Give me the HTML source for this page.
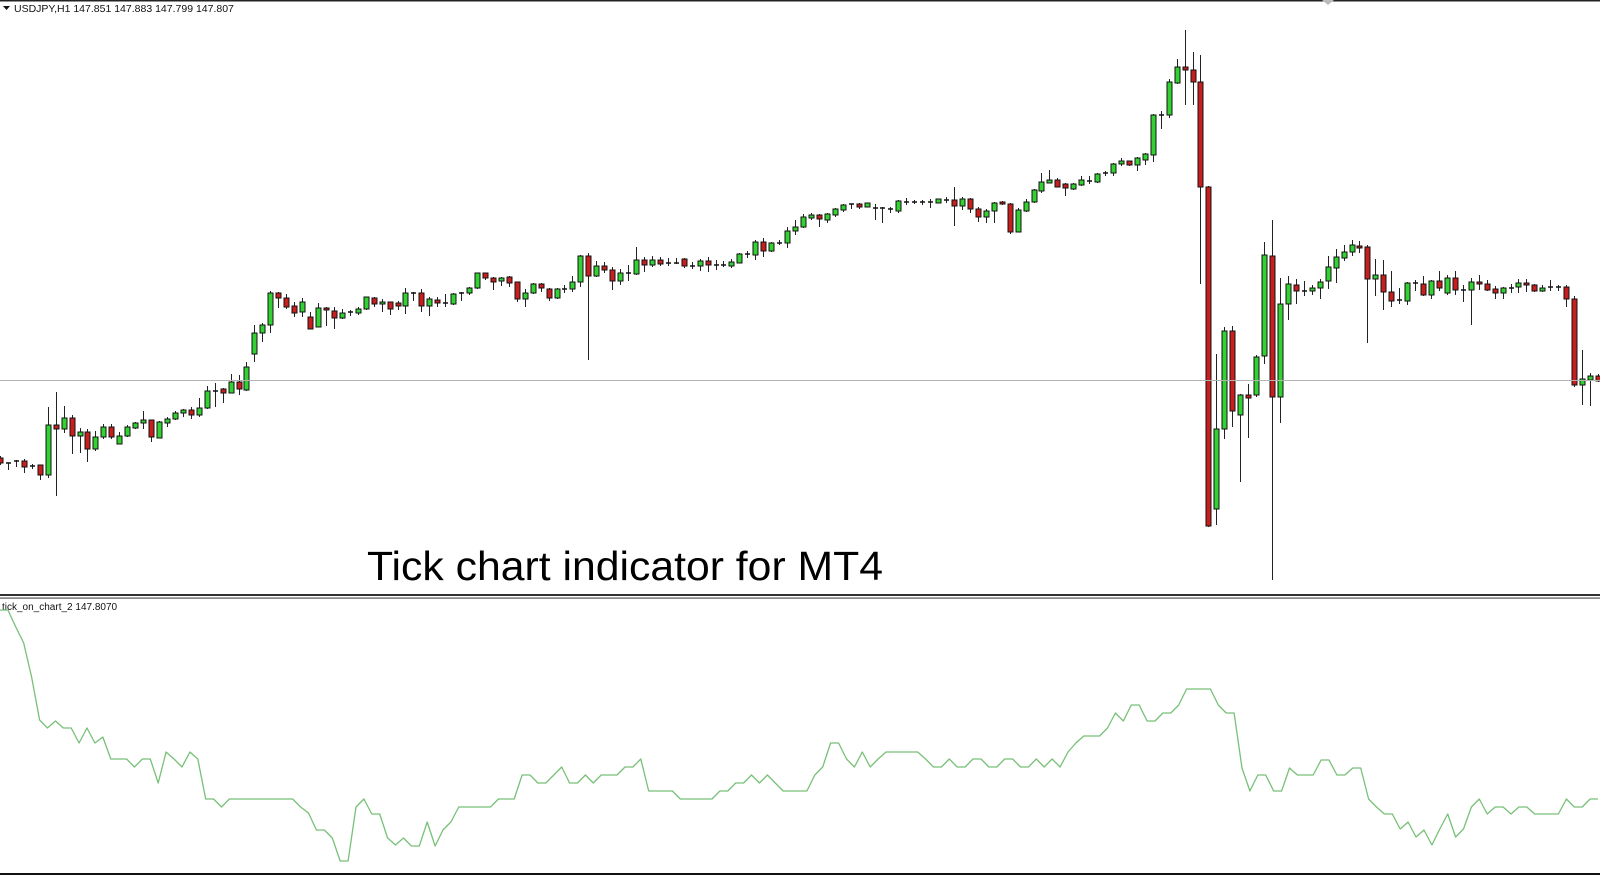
<!DOCTYPE html>
<html><head><meta charset="utf-8"><title>USDJPY H1 tick chart</title>
<style>
html,body{margin:0;padding:0;background:#fff;}
#wrap{position:relative;width:1600px;height:875px;overflow:hidden;background:#fff;font-family:"Liberation Sans",sans-serif;}
svg{position:absolute;left:0;top:0;}
</style></head>
<body>
<div id="wrap">
<svg id="chart" width="1600" height="875" viewBox="0 0 1600 875">
  <rect x="0" y="0" width="1600" height="1.5" fill="#222"/>
  <g id="candles"></g>
  <line id="bidline" x1="0" x2="1600" y1="380" y2="380" stroke="#b4b4b4" stroke-width="1"/>
  <text x="14" y="12" font-size="10.5" fill="#111" font-family="Liberation Sans, sans-serif">USDJPY,H1  147.851 147.883 147.799 147.807</text>
  <path d="M3 6 L10 6 L6.5 10 Z" fill="#111"/>
  <path d="M1322 0 L1334 0 L1328 5 Z" fill="#bbb"/>
  <text x="367" y="580" font-size="41" fill="#000" textLength="516" lengthAdjust="spacingAndGlyphs" font-family="Liberation Sans, sans-serif">Tick chart indicator for MT4</text>
  <rect x="0" y="594" width="1600" height="2" fill="#333"/>
  <rect x="0" y="597.5" width="1600" height="1.2" fill="#555"/>
  <text x="2" y="610" font-size="10" fill="#111" font-family="Liberation Sans, sans-serif">tick_on_chart_2 147.8070</text>
  <polyline id="indline" fill="none" stroke="#78c078" stroke-width="1.3" stroke-linejoin="round"/>
  <rect x="0" y="873" width="1600" height="2" fill="#111"/>
</svg>
</div>
<script>
const opens = [145.42,145.37,145.39,145.39,145.34,145.35,145.25,145.75,145.71,145.82,
145.64,145.68,145.51,145.63,145.73,145.56,145.64,145.72,145.77,145.80,
145.62,145.77,145.81,145.87,145.90,145.85,145.92,146.09,146.11,146.07,
146.18,146.10,146.46,146.67,146.75,147.07,147.02,146.94,146.88,146.83,
146.73,146.92,146.89,146.82,146.88,146.87,146.91,147.02,146.96,146.98,
146.97,146.94,147.07,147.07,146.94,147.00,146.97,146.96,147.07,147.07,
147.12,147.27,147.22,147.19,147.23,147.18,147.01,147.07,147.16,147.11,
147.02,147.11,147.11,147.18,147.44,147.24,147.34,147.30,147.19,147.27,
147.26,147.40,147.35,147.40,147.37,147.37,147.41,147.34,147.34,147.39,
147.35,147.35,147.34,147.37,147.46,147.45,147.58,147.49,147.57,147.57,
147.69,147.73,147.82,147.85,147.80,147.85,147.90,147.96,147.96,147.93,
147.92,147.92,147.91,147.89,147.98,147.98,147.98,147.98,147.97,148.00,
148.00,147.94,148.01,147.91,147.83,147.89,147.98,147.96,147.68,147.89,
147.98,148.09,148.17,148.20,148.16,148.11,148.15,148.19,148.18,148.27,
148.27,148.36,148.39,148.35,148.40,148.45,148.85,148.85,149.17,149.33,
149.30,149.18,148.13,144.91,145.71,146.69,145.85,146.05,146.05,146.44,
147.44,146.03,146.96,147.15,147.09,147.09,147.12,147.19,147.32,147.42,
147.48,147.54,147.53,147.21,147.25,147.08,147.00,146.99,147.17,147.16,
147.05,147.19,147.07,147.22,147.10,147.10,147.18,147.16,147.11,147.07,
147.12,147.13,147.17,147.15,147.09,147.13,147.13,147.13,147.01,146.15,
146.20,146.24];
const highs = [145.44,145.37,145.40,145.41,145.36,145.35,145.93,146.08,145.94,145.85,
145.72,145.71,145.69,145.76,145.76,145.68,145.75,145.78,145.89,145.80,
145.79,145.83,145.89,145.91,145.93,146.02,146.14,146.17,146.12,146.26,
146.25,146.38,146.75,146.77,147.09,147.08,147.06,146.98,147.02,146.88,
146.97,146.93,146.93,146.91,146.90,146.93,147.03,147.03,147.01,146.98,
146.99,147.12,147.08,147.11,147.03,147.03,147.06,147.07,147.08,147.13,
147.27,147.27,147.23,147.23,147.24,147.18,147.11,147.17,147.17,147.12,
147.12,147.15,147.24,147.45,147.47,147.39,147.38,147.33,147.31,147.35,
147.53,147.43,147.44,147.43,147.42,147.42,147.42,147.38,147.41,147.43,
147.40,147.39,147.41,147.47,147.49,147.60,147.62,147.58,147.60,147.73,
147.80,147.86,147.87,147.86,147.87,147.92,147.96,147.96,147.97,147.97,
147.96,147.93,147.93,148.00,148.02,148.00,148.00,148.01,148.01,148.03,
148.13,148.03,148.02,147.93,147.91,147.98,147.99,147.97,147.92,148.01,
148.11,148.27,148.30,148.22,148.17,148.17,148.24,148.24,148.27,148.29,
148.37,148.42,148.39,148.43,148.47,148.86,148.89,149.21,149.41,149.70,
149.48,149.45,148.14,146.46,146.73,146.74,146.06,146.16,146.45,147.58,
147.80,147.22,147.24,147.21,147.19,147.15,147.21,147.44,147.51,147.55,
147.60,147.59,147.55,147.41,147.40,147.29,147.12,147.18,147.20,147.24,
147.20,147.29,147.25,147.29,147.15,147.22,147.25,147.20,147.14,147.13,
147.16,147.21,147.21,147.16,147.15,147.20,147.15,147.15,147.04,146.50,
146.27,146.26];
const lows = [145.35,145.30,145.33,145.27,145.31,145.20,145.22,145.04,145.67,145.46,
145.47,145.38,145.49,145.61,145.61,145.56,145.63,145.71,145.71,145.58,
145.62,145.73,145.80,145.83,145.81,145.83,145.91,145.93,145.97,146.07,
146.05,146.09,146.38,146.58,146.67,146.92,146.91,146.83,146.83,146.71,
146.73,146.74,146.71,146.81,146.84,146.85,146.90,146.93,146.88,146.85,
146.90,146.86,146.99,146.88,146.84,146.93,146.93,146.95,146.99,147.05,
147.11,147.20,147.10,147.14,147.13,146.98,146.93,147.06,147.08,146.99,
147.01,147.07,147.08,147.13,146.40,147.23,147.27,147.10,147.15,147.19,
147.25,147.28,147.33,147.34,147.34,147.36,147.32,147.31,147.29,147.28,
147.30,147.33,147.32,147.37,147.42,147.40,147.43,147.48,147.55,147.52,
147.65,147.72,147.80,147.73,147.77,147.83,147.88,147.91,147.91,147.93,
147.80,147.77,147.87,147.87,147.95,147.96,147.95,147.92,147.97,147.97,
147.74,147.90,147.87,147.78,147.77,147.77,147.95,147.66,147.68,147.88,
147.97,148.07,148.17,148.13,148.04,148.10,148.14,148.16,148.17,148.24,
148.24,148.34,148.34,148.29,148.35,148.38,148.71,148.82,149.16,148.95,
148.95,147.16,144.73,144.75,145.61,145.73,145.18,145.62,146.03,146.36,
144.20,145.77,146.80,146.96,147.04,147.05,147.01,147.11,147.17,147.39,
147.44,147.47,146.57,147.04,146.90,146.93,146.96,146.95,147.09,147.04,
147.01,147.09,147.05,147.05,146.98,146.75,147.10,147.09,147.01,147.01,
147.07,147.07,147.08,147.08,147.08,147.09,147.09,146.93,146.13,145.95,
145.94,146.18];
const closes = [145.37,145.37,145.39,145.33,145.34,145.25,145.75,145.71,145.82,145.64,
145.68,145.51,145.63,145.73,145.63,145.64,145.73,145.77,145.80,145.63,
145.78,145.81,145.87,145.90,145.85,145.92,146.09,146.09,146.07,146.18,
146.11,146.33,146.67,146.75,147.07,147.02,146.93,146.87,146.98,146.71,
146.92,146.90,146.82,146.87,146.88,146.91,147.03,146.96,146.98,146.91,
146.94,147.07,147.07,146.94,147.01,146.97,146.97,147.06,147.07,147.12,
147.27,147.22,147.18,147.22,147.17,147.01,147.07,147.16,147.12,147.02,
147.11,147.11,147.18,147.44,147.24,147.34,147.30,147.19,147.27,147.27,
147.40,147.35,147.40,147.36,147.37,147.37,147.34,147.34,147.39,147.35,
147.35,147.35,147.38,147.46,147.46,147.58,147.49,147.57,147.57,147.69,
147.73,147.83,147.85,147.81,147.86,147.91,147.95,147.96,147.93,147.97,
147.92,147.92,147.91,147.99,147.98,147.98,147.98,147.98,148.01,148.00,
147.94,148.01,147.91,147.83,147.89,147.97,147.96,147.68,147.90,147.98,
148.10,148.18,148.20,148.13,148.12,148.16,148.20,148.19,148.26,148.27,
148.36,148.39,148.35,148.42,148.46,148.85,148.85,149.18,149.33,149.30,
149.18,148.13,144.74,145.71,146.69,145.89,146.05,146.02,146.43,147.45,
146.03,146.96,147.16,147.09,147.09,147.12,147.18,147.33,147.43,147.48,
147.55,147.52,147.21,147.25,147.08,146.99,147.00,147.17,147.17,147.05,
147.19,147.12,147.22,147.10,147.10,147.18,147.16,147.10,147.07,147.12,
147.12,147.17,147.15,147.09,147.12,147.13,147.13,147.01,146.15,146.21,
146.24,146.19];
const tickValues = [149.90,149.90,149.73,149.57,149.23,148.80,148.72,148.79,148.72,148.72,
148.57,148.72,148.57,148.63,148.41,148.41,148.41,148.33,148.41,148.41,
148.17,148.48,148.41,148.33,148.48,148.41,148.01,148.01,147.93,148.01,
148.01,148.01,148.01,148.01,148.01,148.01,148.01,148.01,
147.93,147.87,147.70,147.70,147.62,147.39,147.39,147.93,148.01,147.86,147.86,147.62,147.55,
147.62,147.54,147.54,147.78,147.54,147.70,147.78,147.93,147.93,147.93,
147.93,147.93,148.01,148.01,148.01,148.25,148.25,148.17,148.17,148.25,
148.33,148.17,148.17,148.25,148.17,148.25,148.25,148.25,148.33,148.33,
148.41,148.09,148.09,148.09,148.09,148.01,148.01,148.01,148.01,148.01,
148.09,148.09,148.17,148.17,148.25,148.17,148.25,148.17,148.09,148.09,
148.09,
148.09,148.25,148.33,148.57,148.57,148.41,148.33,148.48,148.33,148.41,
148.48,148.48,148.48,148.48,148.48,148.41,148.33,148.33,148.41,148.33,
148.33,148.41,148.41,148.33,148.33,148.41,148.41,148.33,148.33,148.41,
148.33,148.41,148.33,148.48,148.57,148.64,148.64,148.64,148.72,148.87,
148.79,148.95,148.95,148.79,148.79,148.87,148.87,148.95,149.11,149.11,
149.11,149.11,148.95,148.87,148.87,148.32,148.09,148.25,148.25,148.09,
148.09,148.32,148.25,148.25,148.25,148.40,148.40,148.25,148.25,148.32,
148.32,148.01,147.93,147.86,147.86,147.71,147.78,147.63,147.70,147.55,
147.71,147.86,147.63,147.71,147.93,148.01,147.86,147.93,147.93,147.86,
147.93,147.93,147.86,147.86,147.86,147.86,148.01,147.93,147.93,148.01,
148.01];

// axis functions
const PX_PER_YEN = 100, TOP_PRICE = 150;
function yPrice(p){ return (TOP_PRICE - p) * PX_PER_YEN; }
const IND_TOP = 150, IND_Y0 = 600;
function yInd(v){ return IND_Y0 + (IND_TOP - v) * 100; }
function xBar(i, n){ return i * 1598 / (n - 1); }

const NS = 'http://www.w3.org/2000/svg';
const g = document.getElementById('candles');
const n = closes.length;
for (let i = 0; i < n; i++) {
  const x = Math.round(xBar(i, n));
  const yo = yPrice(opens[i]), yc = yPrice(closes[i]);
  const yh = yPrice(highs[i]), yl = yPrice(lows[i]);
  const wick = document.createElementNS(NS, 'line');
  wick.setAttribute('x1', x + 0.5); wick.setAttribute('x2', x + 0.5);
  wick.setAttribute('y1', yh); wick.setAttribute('y2', yl);
  wick.setAttribute('stroke', '#222'); wick.setAttribute('stroke-width', '1');
  
  
  g.appendChild(wick);
  const top = Math.min(yo, yc), h = Math.abs(yo - yc);
  if (h < 1) {
    const d = document.createElementNS(NS, 'line');
    d.setAttribute('x1', x - 2); d.setAttribute('x2', x + 3);
    d.setAttribute('y1', yc); d.setAttribute('y2', yc);
    d.setAttribute('stroke', '#111'); d.setAttribute('stroke-width', '1.5');
    
    
    g.appendChild(d);
  } else {
    const r = document.createElementNS(NS, 'rect');
    r.setAttribute('x', x - 2); r.setAttribute('y', top);
    r.setAttribute('width', 5); r.setAttribute('height', h);
    r.setAttribute('fill', closes[i] > opens[i] ? '#32d232' : '#c81e1e');
    r.setAttribute('stroke', '#111'); r.setAttribute('stroke-width', '1');
    
    
    g.appendChild(r);
  }
}
document.getElementById('bidline').setAttribute('y1', yPrice(closes[n-1]) - 0.5);
document.getElementById('bidline').setAttribute('y2', yPrice(closes[n-1]) - 0.5);

const m = tickValues.length;
const pts = tickValues.map((v, i) => xBar(i, m).toFixed(1) + ',' + yInd(v).toFixed(1)).join(' ');
document.getElementById('indline').setAttribute('points', pts);
</script>
</body></html>
